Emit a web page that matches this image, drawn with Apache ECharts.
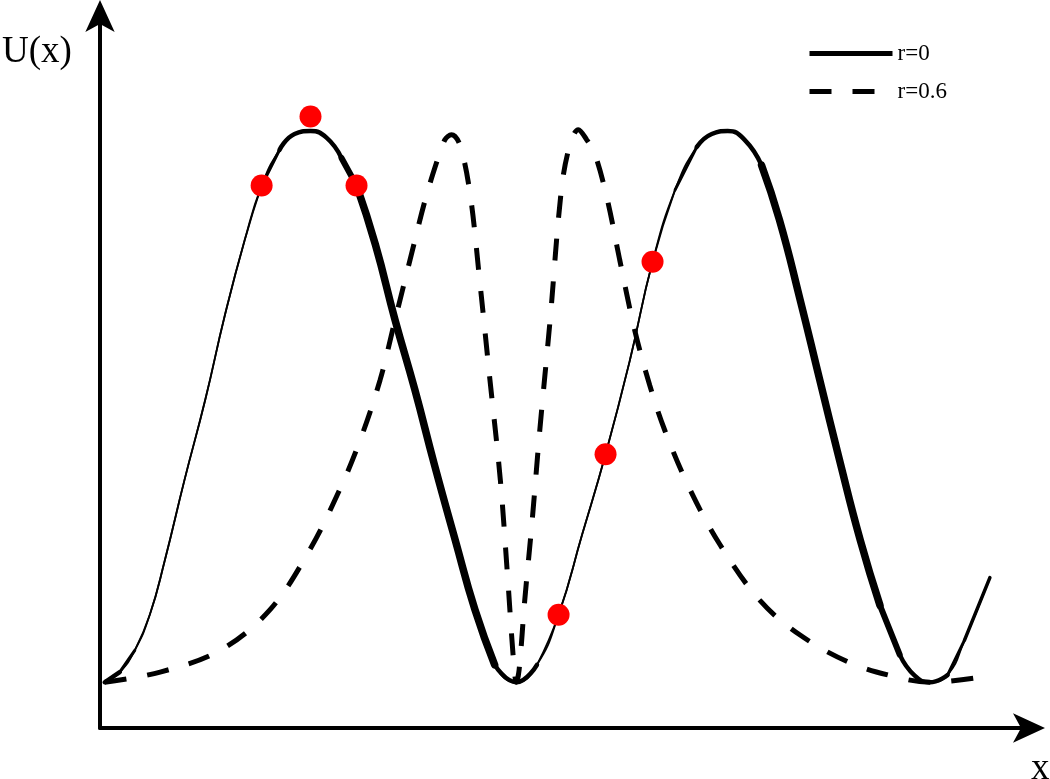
<!DOCTYPE html>
<html>
<head>
<meta charset="utf-8">
<script src="https://cdn.jsdelivr.net/npm/echarts@6/dist/echarts.min.js"></script>
<style>
  html, body { margin: 0; padding: 0; background: #fff; }
  #chart { width: 1050px; height: 779px; }
</style>
</head>
<body>
<div id="chart"></div>
<script>
// r = 0 curve (solid)
const solidX = [0.05, 0.21, 0.37, 0.53, 0.69, 0.90, 1.12, 1.33, 1.54, 1.72, 1.91, 2.07, 2.24, 2.41, 2.57, 2.73, 2.93, 3.14, 3.35, 3.56, 3.78, 3.99, 4.20, 4.43,
  4.65, 4.88, 5.13, 5.38, 5.64, 5.88, 6.12, 6.35, 6.51, 6.68, 6.86, 7.04, 7.23, 7.45, 7.66, 7.87, 8.09, 8.30, 8.51, 8.67, 8.83, 9.02, 9.20, 9.47]
const solidU = [0.63, 0.77, 1.07, 1.56, 2.31, 3.42, 4.52, 5.69, 6.72, 7.47, 7.96, 8.18, 8.22, 8.13, 7.85, 7.47, 6.66, 5.62, 4.66, 3.62, 2.59, 1.63, 0.87, 0.63,
  0.87, 1.56, 2.66, 3.77, 5.07, 6.42, 7.41, 8.00, 8.18, 8.22, 8.10, 7.75, 7.00, 5.90, 4.79, 3.69, 2.59, 1.69, 1.01, 0.72, 0.63, 0.73, 1.21, 2.07]

// r = 0.6 curve (dashed)
const dashX = [0.05, 0.64, 1.28, 1.81, 2.23, 2.55, 2.77, 2.98, 3.14, 3.30, 3.46, 3.59, 3.67, 3.74, 3.83, 3.94, 4.04, 4.15, 4.26, 4.34, 4.40, 4.43,
  4.46, 4.52, 4.60, 4.68, 4.79, 4.91, 5.00, 5.09, 5.18, 5.27, 5.40, 5.53, 5.69, 5.85, 6.01, 6.28, 6.60, 7.02, 7.45, 7.98, 8.51, 8.83, 9.47]
const dashU = [0.63, 0.77, 1.07, 1.63, 2.45, 3.28, 3.97, 4.79, 5.62, 6.45, 7.27, 7.82, 8.10, 8.17, 8.03, 7.34, 6.17, 4.79, 3.42, 2.04, 0.94, 0.63,
  0.80, 1.76, 2.87, 4.10, 5.62, 7.41, 8.03, 8.24, 8.10, 7.89, 7.27, 6.45, 5.48, 4.72, 4.10, 3.28, 2.52, 1.76, 1.28, 0.90, 0.69, 0.63, 0.72]

// red marked points
const dotX = [1.72, 2.24, 2.73, 4.88, 5.38, 5.88]
const dotU = [7.47, 8.42, 7.47, 1.56, 3.77, 6.42]

const legendNames = ['r=0', 'r=0.6']

const serif = '"Liberation Serif", "DejaVu Serif", serif'
const dashPattern = [22, 21]

// stroke gets thin where the curve rises, thick where it falls
const widthFor = (i) => {
  const s = (solidU[i + 1] - solidU[i]) / (solidX[i + 1] - solidX[i])
  if (i === solidX.length - 2) return 3.5   // last piece, going up at the right edge
  if (s > 3) return 1.8
  if (s > 1.5) return 3
  if (s >= -2) return 4.5
  if (s >= -3.5) return 6
  return 7.5
}

const pts = solidX.map((x, i) => [x, solidU[i]])
const segments = []
let start = 0
let cur = widthFor(0)
for (let i = 1; i < pts.length - 1; i++) {
  const w = widthFor(i)
  if (w !== cur) {
    segments.push({ from: start, to: i, width: cur })
    start = i
    cur = w
  }
}
segments.push({ from: start, to: pts.length - 1, width: cur })

const series = [{
  name: legendNames[0],
  type: 'line',
  data: pts,
  smooth: 0.5,
  symbol: 'none',
  itemStyle: { color: '#000' },
  lineStyle: { color: '#000', width: 1.8 },
  z: 3
}]
segments.forEach(seg => {
  series.push({
    name: legendNames[0],
    type: 'line',
    data: pts.slice(seg.from, seg.to + 1),
    smooth: 0.5,
    symbol: 'none',
    itemStyle: { color: '#000' },
    lineStyle: { color: '#000', width: seg.width, cap: 'round', join: 'round' },
    z: 3
  })
})
series.push({
  name: legendNames[1],
  type: 'line',
  data: dashX.map((x, i) => [x, dashU[i]]),
  smooth: 0.35,
  symbol: 'none',
  itemStyle: { color: '#000' },
  lineStyle: { color: '#000', width: 5, type: dashPattern },
  z: 2
})
series.push({
  type: 'scatter',
  data: dotX.map((x, i) => [x, dotU[i]]),
  symbolSize: 22,
  itemStyle: { color: '#ff0000', opacity: 1 },
  z: 5
})

const arrowLine = (offset) => ({
  show: true,
  onZero: false,
  symbol: ['none', 'arrow'],
  symbolSize: [22, 32],
  symbolOffset: [0, offset],
  lineStyle: { color: '#000', width: 4 }
})

const chart = echarts.init(document.getElementById('chart'), null, { renderer: 'canvas' })
chart.setOption({
  animation: false,
  backgroundColor: '#fff',
  grid: { left: 100, right: 15, top: 12, bottom: 51 },
  xAxis: {
    type: 'value',
    min: 0,
    max: 9.95,
    axisLine: arrowLine(10),
    axisTick: { show: false },
    axisLabel: { show: false },
    splitLine: { show: false }
  },
  yAxis: {
    type: 'value',
    min: 0,
    max: 9.86,
    axisLine: arrowLine(12),
    axisTick: { show: false },
    axisLabel: { show: false },
    splitLine: { show: false }
  },
  legend: {
    orient: 'vertical',
    left: 807,
    top: 42,
    padding: 0,
    itemWidth: 83,
    itemHeight: 14,
    itemGap: 15,
    textStyle: { fontFamily: serif, fontSize: 23, color: '#000' },
    data: [
      { name: legendNames[0], itemStyle: { opacity: 0, color: 'rgba(0,0,0,0)', borderWidth: 0 }, lineStyle: { color: '#000', width: 5, type: 'solid' } },
      { name: legendNames[1], itemStyle: { opacity: 0, color: 'rgba(0,0,0,0)', borderWidth: 0 }, lineStyle: { color: '#000', width: 5, type: dashPattern } }
    ]
  },
  graphic: [
    { type: 'text', left: 2, top: 34, style: { text: 'U(x)', font: '37px ' + serif, fill: '#000' } },
    { type: 'text', left: 1031, top: 751, style: { text: 'x', font: '37px ' + serif, fill: '#000' } }
  ],
  series: series
})
</script>
</body>
</html>
